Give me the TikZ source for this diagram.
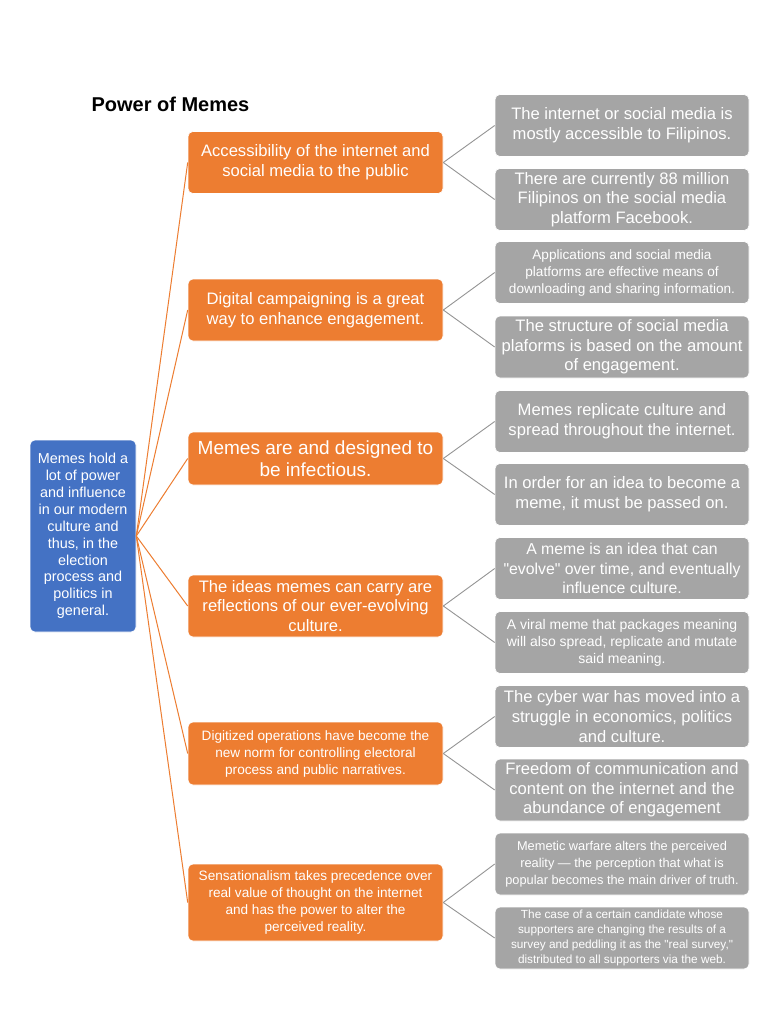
\documentclass[tikz,border=0pt]{standalone}
\usepackage{fontspec}
\setmainfont{Liberation Sans}
\definecolor{mblue}{HTML}{4472C4}
\definecolor{morange}{HTML}{ED7D31}
\definecolor{mgray}{HTML}{A5A5A5}
\begin{document}
\begin{tikzpicture}[x=1pt,y=-1pt,
  box/.style={rounded corners=5pt, draw=white, line width=0.6pt, text=white, align=center, inner sep=0pt},
  rootbox/.style={box, fill=mblue, minimum width=106pt, minimum height=192pt},
  obox/.style={box, fill=morange, minimum width=255pt},
  gbox/.style={box, fill=mgray, minimum width=254pt, minimum height=62pt},
  oline/.style={draw=morange, line width=1pt},
  gline/.style={draw=mgray!90!black, line width=0.9pt},
  fA/.style={font=\fontsize{16.6}{19.6}\selectfont},
  fB/.style={font=\fontsize{13.6}{17}\selectfont},
  fC/.style={font=\fontsize{11.8}{15}\selectfont},
]
\useasboundingbox[fill=white] (0,0) rectangle (768,1024);
\node[anchor=west, font=\fontsize{20}{24}\selectfont\bfseries] (title) at (88,104) {Power of Memes};

\node[rootbox, font=\fontsize{14.4}{16.9}\selectfont] (root) at (83,536) {Memes hold a\\lot of power\\and influence\\in our modern\\culture and\\thus, in the\\election\\process and\\politics in\\general.};

\node[obox, fA, minimum height=62pt] (o1) at (315.5,162.5) {Accessibility of the internet and\\social media to the public};
\node[obox, fA, minimum height=62pt] (o2) at (315.5,310) {Digital campaigning is a great\\way to enhance engagement.};
\node[obox, font=\fontsize{19}{22}\selectfont, minimum height=53pt] (o3) at (315.5,458.5) {Memes are and designed to\\be infectious.};
\node[obox, fA, minimum height=62pt] (o4) at (315.5,606) {The ideas memes can carry are\\reflections of our ever-evolving\\culture.};
\node[obox, fB, minimum height=63pt] (o5) at (315.5,753.5) {Digitized operations have become the\\new norm for controlling electoral\\process and public narratives.};
\node[obox, fB, minimum height=77pt] (o6) at (315.5,902.5) {Sensationalism takes precedence over\\real value of thought on the internet\\and has the power to alter the\\perceived reality.};

\node[gbox, fA] (g1a) at (622,125.5) {The internet or social media is\\mostly accessible to Filipinos.};
\node[gbox, fA] (g1b) at (622,199.5) {There are currently 88 million\\Filipinos on the social media\\platform Facebook.};
\node[gbox, fB] (g2a) at (622,272.5) {Applications and social media\\platforms are effective means of\\downloading and sharing information.};
\node[gbox, fA] (g2b) at (622,347) {The structure of social media\\plaforms is based on the amount\\of engagement.};
\node[gbox, fA] (g3a) at (622,421.5) {Memes replicate culture and\\spread throughout the internet.};
\node[gbox, fA] (g3b) at (622,494.5) {In order for an idea to become a\\meme, it must be passed on.};
\node[gbox, font=\fontsize{15.8}{19.6}\selectfont] (g4a) at (622,568.5) {A meme is an idea that can\\\textquotedbl evolve\textquotedbl{} over time, and eventually\\influence culture.};
\node[gbox, font=\fontsize{14}{17}\selectfont] (g4b) at (622,642.5) {A viral meme that packages meaning\\will also spread, replicate and mutate\\said meaning.};
\node[gbox, fA] (g5a) at (622,716.5) {The cyber war has moved into a\\struggle in economics, politics\\and culture.};
\node[gbox, fA] (g5b) at (622,790) {Freedom of communication and\\content on the internet and the\\abundance of engagement};
\node[gbox, font=\fontsize{12.8}{17}\selectfont] (g6a) at (622,864) {Memetic warfare alters the perceived\\reality — the perception that what is\\popular becomes the main driver of truth.};
\node[gbox, fC] (g6b) at (622,938) {The case of a certain candidate whose\\supporters are changing the results of a\\survey and peddling it as the \textquotedbl real survey,\textquotedbl\\distributed to all supporters via the web.};

\foreach \o in {o1,o2,o3,o4,o5,o6}
  \draw[oline] (root.east) -- (\o.west);
\foreach \o/\a/\b in {o1/g1a/g1b,o2/g2a/g2b,o3/g3a/g3b,o4/g4a/g4b,o5/g5a/g5b,o6/g6a/g6b}{
  \draw[gline] (\o.east) -- (\a.west);
  \draw[gline] (\o.east) -- (\b.west);
}
\end{tikzpicture}
\end{document}
